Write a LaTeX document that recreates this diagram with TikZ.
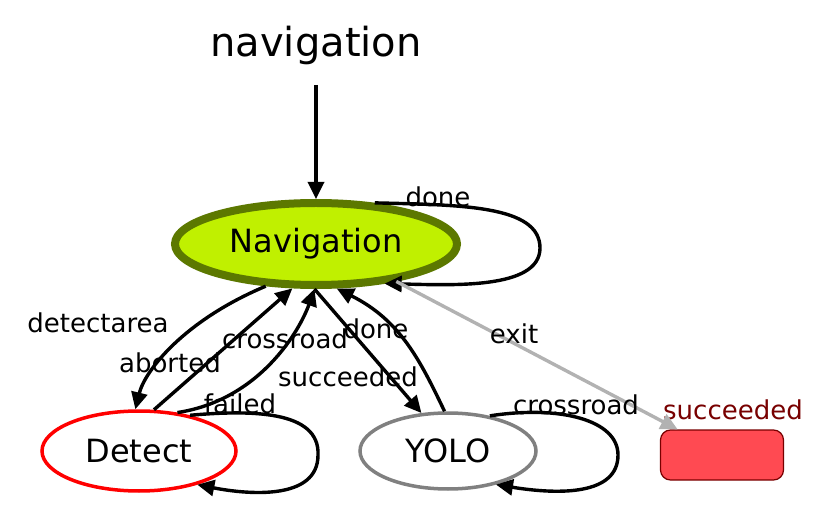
\documentclass[tikz,border=0pt]{standalone}
\usepackage{fontspec}
\setmainfont{DejaVu Sans}
\usetikzlibrary{arrows.meta,shapes.geometric}
\begin{document}
\begin{tikzpicture}[x=1pt,y=-1pt,
  e/.style={line width=3.4pt,-{Triangle[length=17pt,width=16pt]}},
  lbl/.style={font=\fontsize{26}{28}\selectfont,inner sep=0pt}]
\useasboundingbox (0,0) rectangle (817,521);
\node[font=\fontsize{40}{44}\selectfont] (t) at (316,45) {navigation};
\node[ellipse,draw={rgb,255:red,92;green,120;blue,0},line width=8pt,fill={rgb,255:red,192;green,240;blue,0},minimum width=282pt,minimum height=82pt,font=\fontsize{32}{34}\selectfont] (n) at (316,244) {Navigation};
\node[ellipse,draw=red,line width=3.5pt,minimum width=194pt,minimum height=80pt,font=\fontsize{32}{34}\selectfont] (d) at (139,451) {Detect};
\node[ellipse,draw=gray,line width=3.5pt,minimum width=176pt,minimum height=76pt,font=\fontsize{32}{34}\selectfont] (y) at (448,451) {YOLO};
\node[rounded corners=10pt,draw={rgb,255:red,120;green,0;blue,0},line width=1.2pt,fill={rgb,255:red,255;green,74;blue,82},minimum width=123pt,minimum height=50pt] (s) at (722,455) {};
\node[lbl,text={rgb,255:red,120;green,0;blue,0}] (sl) at (733,410) {succeeded};
\coordinate (tb) at (316,85);
\draw[e] (tb) -- (n);
\draw[e] (n.-140) .. controls (185,320) and (145,370) .. (d.95);
\draw[e] (d.70) -- (n.-118);
\draw[e] (d.45) .. controls (260,400) and (300,330) .. (n.-92);
\draw[e] (d.35) .. controls (250,410) and (320,410) .. (318,455) .. controls (318,500) and (250,495) .. (d.-30);
\draw[e] (n.-92) -- (y.125);
\draw[e] (y.95) .. controls (420,360) and (400,320) .. (n.-65);
\draw[e] (y.40) .. controls (560,405) and (618,420) .. (618,455) .. controls (618,495) and (560,495) .. (y.-35);
\draw[e] (n.35) .. controls (460,205) and (540,205) .. (540,248) .. controls (540,290) and (450,285) .. (n.-30);
\draw[line width=3.4pt,gray!60,-{Triangle[length=17pt,width=16pt]}] (n.-25) -- (s.150);
\node[lbl] at (438,197) {done};
\node[lbl] at (98,323) {detectarea};
\node[lbl] at (170,363) {aborted};
\node[lbl] at (285,339) {crossroad};
\node[lbl] at (240,404) {failed};
\node[lbl] at (348,377) {succeeded};
\node[lbl] at (376,329) {done};
\node[lbl] at (514,334) {exit};
\node[lbl] at (576,405) {crossroad};
\end{tikzpicture}
\end{document}
